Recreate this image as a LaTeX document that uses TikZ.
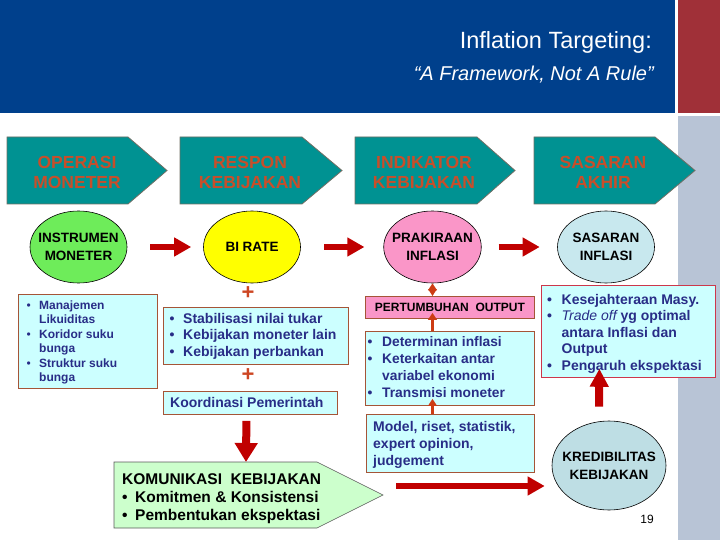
\documentclass[tikz,border=0pt]{standalone}
\usepackage{fontspec}
\setmainfont{Liberation Sans}
\usetikzlibrary{arrows.meta,shapes.geometric}
\definecolor{hdrblue}{RGB}{0,64,140}
\definecolor{hdrred}{RGB}{160,48,56}
\definecolor{sidegray}{RGB}{184,196,214}
\definecolor{pentteal}{RGB}{0,146,146}
\definecolor{pentline}{RGB}{110,110,100}
\definecolor{penttext}{RGB}{200,78,42}
\definecolor{ellgreen}{RGB}{110,236,90}
\definecolor{ellyellow}{RGB}{255,255,0}
\definecolor{ellpink}{RGB}{250,150,200}
\definecolor{ellblue}{RGB}{200,232,238}
\definecolor{kredblue}{RGB}{190,222,228}
\definecolor{boxcyan}{RGB}{204,255,255}
\definecolor{boxline}{RGB}{165,85,55}
\definecolor{rboxline}{RGB}{205,55,75}
\definecolor{navytext}{RGB}{40,45,135}
\definecolor{plusred}{RGB}{205,70,35}
\definecolor{thinred}{RGB}{205,60,20}
\definecolor{bigred}{RGB}{192,0,0}
\definecolor{komgreen}{RGB}{204,255,204}
\definecolor{komline}{RGB}{90,90,90}
\newcommand{\fs}[2]{\fontsize{#1}{#2}\selectfont}
\begin{document}
\begin{tikzpicture}[x=1pt,y=-1pt,
  pent/.style={fill=pentteal, draw=pentline, line width=0.8pt},
  penttxt/.style={text=penttext, font=\fs{17.5}{20}\bfseries, align=center, inner sep=0pt},
  ell/.style={ellipse, draw=black, line width=0.6pt, inner xsep=-6pt, inner ysep=0pt,
    minimum width=97pt, minimum height=72pt, align=center, font=\fs{13.5}{18}\bfseries},
  cbox/.style={draw=boxline, line width=0.8pt, fill=boxcyan, anchor=north west, inner sep=0pt},
  btxt/.style={anchor=base west, inner sep=0pt, text=navytext},
  bigarrow/.style={draw=bigred, line width=6.5pt, -{Triangle[length=17pt,width=18pt]}},
  thinarrow/.style={draw=thinred, line width=2.7pt, -{Triangle[length=7pt,width=8.5pt]}},
  plussign/.style={text=plusred, font=\fs{22}{22}\bfseries, inner sep=0pt},
]
\useasboundingbox (0,0) rectangle (720,540);
% header and side bars
\fill[hdrblue] (0,0) rectangle (675,113);
\fill[hdrred] (678,0) rectangle (720,113);
\fill[sidegray] (678,116) rectangle (720,540);
\node[anchor=base east, inner sep=0pt, text=white, font=\fs{23.5}{28}] (title) at (652,49) {Inflation Targeting:};
\node[anchor=base east, inner sep=0pt, text=white, font=\fs{20}{24}\itshape] (subtitle) at (654,81) {“A Framework, Not A Rule”};

% pentagons
\draw[pent] (7,137) -- (128,137) -- (167,170.5) -- (128,204) -- (7,204) -- cycle;
\draw[pent] (180,137) -- (302,137) -- (342,170.5) -- (302,204) -- (180,204) -- cycle;
\draw[pent] (355,137) -- (477,137) -- (515,170.5) -- (477,204) -- (355,204) -- cycle;
\draw[pent] (534,137) -- (655,137) -- (695,170.5) -- (655,204) -- (534,204) -- cycle;
\node[penttxt] (p1) at (77,172) {OPERASI\\MONETER};
\node[penttxt] (p2) at (250,172) {RESPON\\KEBIJAKAN};
\node[penttxt] (p3) at (424,172) {INDIKATOR\\KEBIJAKAN};
\node[penttxt] (p4) at (603,172) {SASARAN\\AKHIR};

% ellipses
\node[ell, fill=ellgreen] (instr) at (78.5,247) {INSTRUMEN\\MONETER};
\node[ell, fill=ellyellow] (birate) at (252,247) {BI RATE};
\node[ell, fill=ellpink] (prak) at (432.5,247) {PRAKIRAAN\\INFLASI};
\node[ell, fill=ellblue] (sas) at (606,247) {SASARAN\\INFLASI};
\node[ell, fill=kredblue, minimum width=114pt, minimum height=89pt, inner xsep=-8pt] (kred) at (609,465.5) {KREDIBILITAS\\KEBIJAKAN};

% boxes
\node[cbox, minimum width=139pt, minimum height=94pt] (lbox) at (18,294) {};
\node[cbox, minimum width=185pt, minimum height=57pt] (mbox) at (163,307) {};
\node[cbox, minimum width=174pt, minimum height=23pt] (koord) at (163,391) {};
\node[cbox, fill=ellpink, minimum width=169pt, minimum height=22pt, font=\fs{12}{14}\bfseries] (pert) at (365,296) {PERTUMBUHAN\ \ OUTPUT};
\node[cbox, minimum width=169pt, minimum height=74pt] (det) at (365,331) {};
\node[cbox, minimum width=168pt, minimum height=58pt] (model) at (366,414) {};
\node[cbox, draw=rboxline, minimum width=174pt, minimum height=92pt] (rbox) at (541,285) {};

% komunikasi pentagon
\draw[fill=komgreen, draw=komline, line width=0.6pt] (114,462) -- (317,462) -- (383,495) -- (317,528) -- (114,528) -- cycle;
\coordinate (komtop) at (246,462);

% texts
\node[btxt, font=\fs{12}{14.5}\bfseries] (lboxt) at (26.5,309)
  {\begin{tabular}[t]{@{}p{12.5pt}@{}l@{}}\mdseries•&Manajemen\\&Likuiditas\\\mdseries•&Koridor suku\\&bunga\\\mdseries•&Struktur suku\\&bunga\end{tabular}};
\node[btxt, font=\fs{14}{16.5}\bfseries] (mboxt) at (169.5,323)
  {\begin{tabular}[t]{@{}p{13.5pt}@{}l@{}}•&Stabilisasi nilai tukar\\•&Kebijakan moneter lain\\•&Kebijakan perbankan\end{tabular}};
\node[btxt, font=\fs{14}{16.5}\bfseries] (koordt) at (170,407) {Koordinasi Pemerintah};
\node[btxt, font=\fs{13.8}{17}\bfseries] (dett) at (367.5,346.5)
  {\begin{tabular}[t]{@{}p{14.5pt}@{}l@{}}•&Determinan inflasi\\•&Keterkaitan antar\\&variabel ekonomi\\•&Transmisi moneter\end{tabular}};
\node[btxt, font=\fs{14}{17}\bfseries] (modelt) at (373,431)
  {\begin{tabular}[t]{@{}l@{}}Model, riset, statistik,\\expert opinion,\\judgement\end{tabular}};
\node[btxt, font=\fs{14}{16.5}\bfseries] (rboxt) at (547,304)
  {\begin{tabular}[t]{@{}p{14.5pt}@{}l@{}}•&Kesejahteraan Masy.\\•&{\mdseries\itshape Trade off} yg optimal\\&antara Inflasi dan\\&Output\\•&Pengaruh ekspektasi\end{tabular}};
\node[anchor=base west, inner sep=0pt, font=\fs{15.5}{18.3}\bfseries] (komt) at (122,484)
  {\begin{tabular}[t]{@{}p{13pt}@{}l@{}}\multicolumn{2}{@{}l@{}}{KOMUNIKASI\ \ KEBIJAKAN}\\•&Komitmen \& Konsistensi\\•&Pembentukan ekspektasi\end{tabular}};
\node[plussign] (plus1) at (248,293) {+};
\node[plussign] (plus2) at (248,375) {+};
\node[font=\fs{12}{14}] (pgnum) at (647,519) {19};

% arrows
\draw[bigarrow, shorten <=23pt, shorten >=12pt] (instr) -- (birate);
\draw[bigarrow, shorten <=23.5pt, shorten >=19pt] (birate) -- (prak);
\draw[bigarrow, shorten <=17pt, shorten >=17.5pt] (prak) -- (sas);
\draw[bigarrow, line width=8pt, -{Triangle[length=19pt,width=22pt]}] ([xshift=-4pt,yshift=-6pt]koord.south) -- (komtop);
\coordinate (hstart) at (396,486);
\draw[bigarrow, shorten >=7pt] (hstart) -- (hstart -| kred.west);
\draw[bigarrow, line width=8pt, -{Triangle[length=18pt,width=18pt]}] ([xshift=-10pt,yshift=14pt]kred.north) -- ([xshift=-29pt,yshift=9pt]rbox.south);
\draw[thinarrow, {Triangle[length=7pt,width=8.5pt]}-{Triangle[length=7pt,width=8.5pt]}] (prak.south) -- (prak.south |- pert.north);
\draw[thinarrow] (prak.south |- det.north) -- ([yshift=6pt]prak.south |- pert.south);
\draw[thinarrow] (prak.south |- model.north) -- ([yshift=7pt]prak.south |- det.south);
\end{tikzpicture}
\end{document}
